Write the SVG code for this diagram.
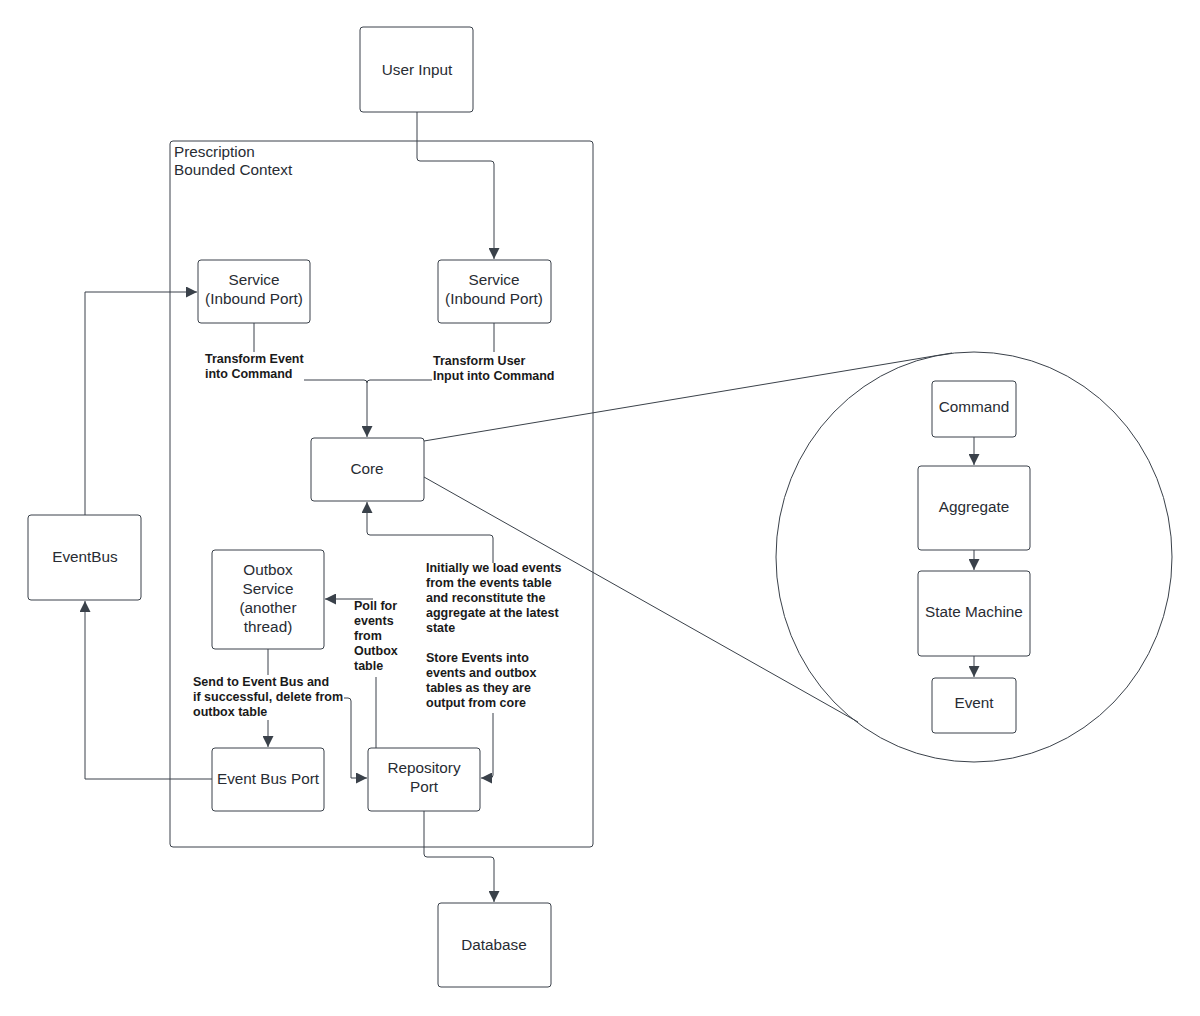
<svg xmlns="http://www.w3.org/2000/svg" width="1200" height="1016" viewBox="0 0 1200 1016">
<defs>
<marker id="arr" viewBox="0 0 10 10" refX="10" refY="5" markerWidth="11" markerHeight="11" markerUnits="userSpaceOnUse" orient="auto">
<path d="M0,0 L10,5 L0,10 z" fill="#3a414a"/>
</marker>
<style>
.n{fill:#fff;stroke:#3a414a;stroke-width:1}
.t{font-family:"Liberation Sans",Arial,sans-serif;font-size:15.3px;fill:#282c33;text-anchor:middle}
.l{font-family:"Liberation Sans",Arial,sans-serif;font-size:12.5px;font-weight:bold;fill:#1a1a1a}
.c{fill:none;stroke:#3a414a;stroke-width:1}
.a{marker-end:url(#arr)}
</style>
</defs>
<rect width="1200" height="1016" fill="#fff"/>
<g id="context">
<rect class="n" x="170" y="141" width="423" height="706" rx="3"/>
<text x="174" y="157" font-family="Liberation Sans,Arial,sans-serif" font-size="15.3" fill="#282c33">Prescription</text>
<text x="174" y="175" font-family="Liberation Sans,Arial,sans-serif" font-size="15.3" fill="#282c33">Bounded Context</text>
</g>
<g id="zoom-circle">
<ellipse cx="974" cy="557" rx="198" ry="205" fill="none" stroke="#3a414a"/>
</g>
<g id="connectors">
<path class="c a" d="M417,112 V158 Q417,161 420,161 H491 Q494,161 494,164 V259"/>
<path class="c" d="M254,323 V352"/>
<path class="c" d="M494,323 V352"/>
<path class="c a" d="M304,380 H364 Q367,380 367,383 V437" stroke-width="1.5"/>
<path class="c" d="M432,380 H370 Q367,380 367,383"/>
<path class="c" d="M424,441 L952,353"/>
<path class="c" d="M424,477 L858,722"/>
<path class="c a" d="M974,437 V465"/>
<path class="c a" d="M974,550 V570"/>
<path class="c a" d="M974,656 V677"/>
<path class="c a" d="M85,515 V292 H197"/>
<path class="c a" d="M212,779 H85 V601"/>
<path class="c" d="M268,649 V675"/>
<path class="c a" d="M268,720 V747"/>
<path class="c a" d="M344,698 H348 Q351,698 351,701 V778 H367"/>
<path class="c" d="M376,748 V677"/>
<path class="c a" d="M373,599 H325"/>
<path class="c a" d="M493,713 V775 Q493,778 490,778 H481"/>
<path class="c a" d="M493,563 V538 Q493,535 490,535 H370 Q367,535 367,532 V502"/>
<path class="c a" d="M424,811 V854 Q424,857 427,857 H491 Q494,857 494,860 V902"/>
</g>
<g id="user-input"><rect class="n" x="360" y="27" width="113" height="85" rx="3"/><text class="t" x="417" y="75">User Input</text></g>
<g id="service-event"><rect class="n" x="198" y="260" width="112" height="63" rx="3"/><text class="t" x="254" y="285">Service</text><text class="t" x="254" y="304">(Inbound Port)</text></g>
<g id="service-user"><rect class="n" x="438" y="260" width="113" height="63" rx="3"/><text class="t" x="494" y="285">Service</text><text class="t" x="494" y="304">(Inbound Port)</text></g>
<g id="core"><rect class="n" x="311" y="438" width="113" height="63" rx="3"/><text class="t" x="367" y="474">Core</text></g>
<g id="eventbus"><rect class="n" x="28" y="515" width="113" height="85" rx="3"/><text class="t" x="85" y="562">EventBus</text></g>
<g id="outbox-service"><rect class="n" x="212" y="550" width="112" height="99" rx="3"/><text class="t" x="268" y="575">Outbox</text><text class="t" x="268" y="594">Service</text><text class="t" x="268" y="613">(another</text><text class="t" x="268" y="632">thread)</text></g>
<g id="event-bus-port"><rect class="n" x="212" y="748" width="112" height="63" rx="3"/><text class="t" x="268" y="784">Event Bus Port</text></g>
<g id="repository-port"><rect class="n" x="368" y="748" width="112" height="63" rx="3"/><text class="t" x="424" y="773">Repository</text><text class="t" x="424" y="792">Port</text></g>
<g id="database"><rect class="n" x="438" y="903" width="113" height="84" rx="3"/><text class="t" x="494" y="950">Database</text></g>
<g id="command"><rect class="n" x="932" y="381" width="84" height="56" rx="3"/><text class="t" x="974" y="412">Command</text></g>
<g id="aggregate"><rect class="n" x="918" y="466" width="112" height="84" rx="3"/><text class="t" x="974" y="512">Aggregate</text></g>
<g id="state-machine"><rect class="n" x="918" y="571" width="112" height="85" rx="3"/><text class="t" x="974" y="617">State Machine</text></g>
<g id="event"><rect class="n" x="932" y="678" width="84" height="55" rx="3"/><text class="t" x="974" y="708">Event</text></g>
<g id="labels">
<text class="l" x="205" y="363">Transform Event</text>
<text class="l" x="205" y="378">into Command</text>
<text class="l" x="433" y="365">Transform User</text>
<text class="l" x="433" y="380">Input into Command</text>
<text class="l" x="193" y="686">Send to Event Bus and</text>
<text class="l" x="193" y="701">if successful, delete from</text>
<text class="l" x="193" y="716">outbox table</text>
<text class="l" x="354" y="610">Poll for</text>
<text class="l" x="354" y="625">events</text>
<text class="l" x="354" y="640">from</text>
<text class="l" x="354" y="655">Outbox</text>
<text class="l" x="354" y="670">table</text>
<text class="l" x="426" y="572">Initially we load events</text>
<text class="l" x="426" y="587">from the events table</text>
<text class="l" x="426" y="602">and reconstitute the</text>
<text class="l" x="426" y="617">aggregate at the latest</text>
<text class="l" x="426" y="632">state</text>
<text class="l" x="426" y="662">Store Events into</text>
<text class="l" x="426" y="677">events and outbox</text>
<text class="l" x="426" y="692">tables as they are</text>
<text class="l" x="426" y="707">output from core</text>
</g>
</svg>
